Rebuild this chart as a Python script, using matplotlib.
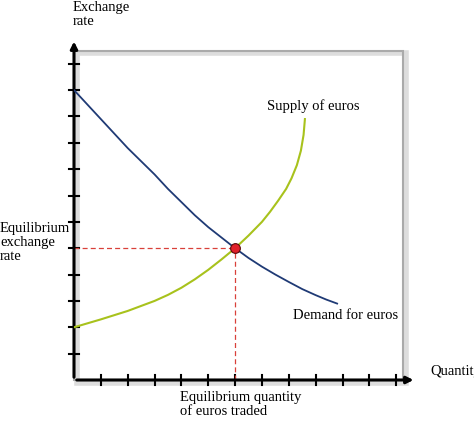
import matplotlib
matplotlib.use("Agg")
import matplotlib.pyplot as plt
from matplotlib.patches import Rectangle

demand_x = [0, 0.5, 1, 1.5, 2, 2.5, 3, 3.5, 4, 4.5, 5, 5.5, 6, 6.5, 7, 7.5, 8, 8.5, 9, 9.4, 9.8]
demand_y = [11.0, 10.45, 9.9, 9.35, 8.8, 8.3, 7.8, 7.25, 6.75, 6.25, 5.8, 5.4, 5.0, 4.63, 4.3, 4.0, 3.72, 3.45, 3.22, 3.05, 2.9]
supply_x = [0, 1, 2, 3, 3.5, 4, 4.5, 5, 5.5, 6, 6.5, 7, 7.3, 7.6, 7.9, 8.1, 8.3, 8.45, 8.55, 8.6]
supply_y = [2.0, 2.3, 2.62, 3.0, 3.23, 3.5, 3.82, 4.18, 4.58, 5.0, 5.48, 6.0, 6.38, 6.8, 7.25, 7.65, 8.15, 8.7, 9.3, 9.9]
eq_x, eq_y = 6, 5
xticks = list(range(1, 13))
yticks = list(range(1, 13))

plt.rcParams['font.family'] = ['Liberation Serif', 'DejaVu Serif']
fig = plt.figure(figsize=(4.74, 4.22), dpi=100)
ax = fig.add_axes([74/474, 42/422, 341/474, 340/422])
ax.set_xlim(0, 12.7)
ax.set_ylim(0, 12.9)
ax.axis('off')

ax.add_patch(Rectangle((0.1, -0.1), 12.25, 12.5, fill=False, edgecolor='#dddddd', lw=4, zorder=0, clip_on=False))
ax.add_patch(Rectangle((0, 0), 12.25, 12.5, fill=False, edgecolor='#aaaaaa', lw=1.5, zorder=0.5, clip_on=False))

ax.annotate('', xy=(12.75, 0), xytext=(0, 0), arrowprops=dict(arrowstyle='-|>', color='black', lw=2.2, mutation_scale=10), annotation_clip=False)
ax.annotate('', xy=(0, 12.95), xytext=(0, 0), arrowprops=dict(arrowstyle='-|>', color='black', lw=2.2, mutation_scale=10), annotation_clip=False)
for t in xticks:
    ax.plot([t, t], [-0.2, 0.2], color='black', lw=1.5, clip_on=False)
for t in yticks:
    ax.plot([-0.2, 0.2], [t, t], color='black', lw=1.5, clip_on=False)

ax.plot(demand_x, demand_y, color='#1f3a75', lw=1.3, zorder=3)
ax.plot(supply_x, supply_y, color='#a8c21c', lw=1.5, zorder=3)
ax.plot([0, eq_x], [eq_y, eq_y], color='#d9403a', lw=0.9, ls=(0, (4, 2.5)), zorder=2)
ax.plot([eq_x, eq_x], [0, eq_y], color='#d9403a', lw=0.9, ls=(0, (4, 2.5)), zorder=2)
ax.plot(eq_x, eq_y, 'o', ms=7, color='#e0202a', mec='#5a0a0a', mew=0.8, zorder=5)

fs = 10.5
fig.text(73/474, 1 - 1/422, 'Exchange\nrate', ha='left', va='top', fontsize=fs, linespacing=1.1)
fig.text(0, 1 - 222/422, 'Equilibrium\nexchange\nrate', ha='left', va='top', fontsize=fs, linespacing=1.1)
fig.text(267/474, 1 - 99/422, 'Supply of euros', ha='left', va='top', fontsize=fs)
fig.text(293/474, 1 - 309/422, 'Demand for euros', ha='left', va='top', fontsize=fs)
fig.text(430/474, 1 - 371/422, 'Quantity', ha='left', va='center', fontsize=fs)
fig.text(180/474, 1 - 391/422, 'Equilibrium quantity\nof euros traded', ha='left', va='top', fontsize=fs, linespacing=1.1)

fig.savefig('out.png', dpi=100)
